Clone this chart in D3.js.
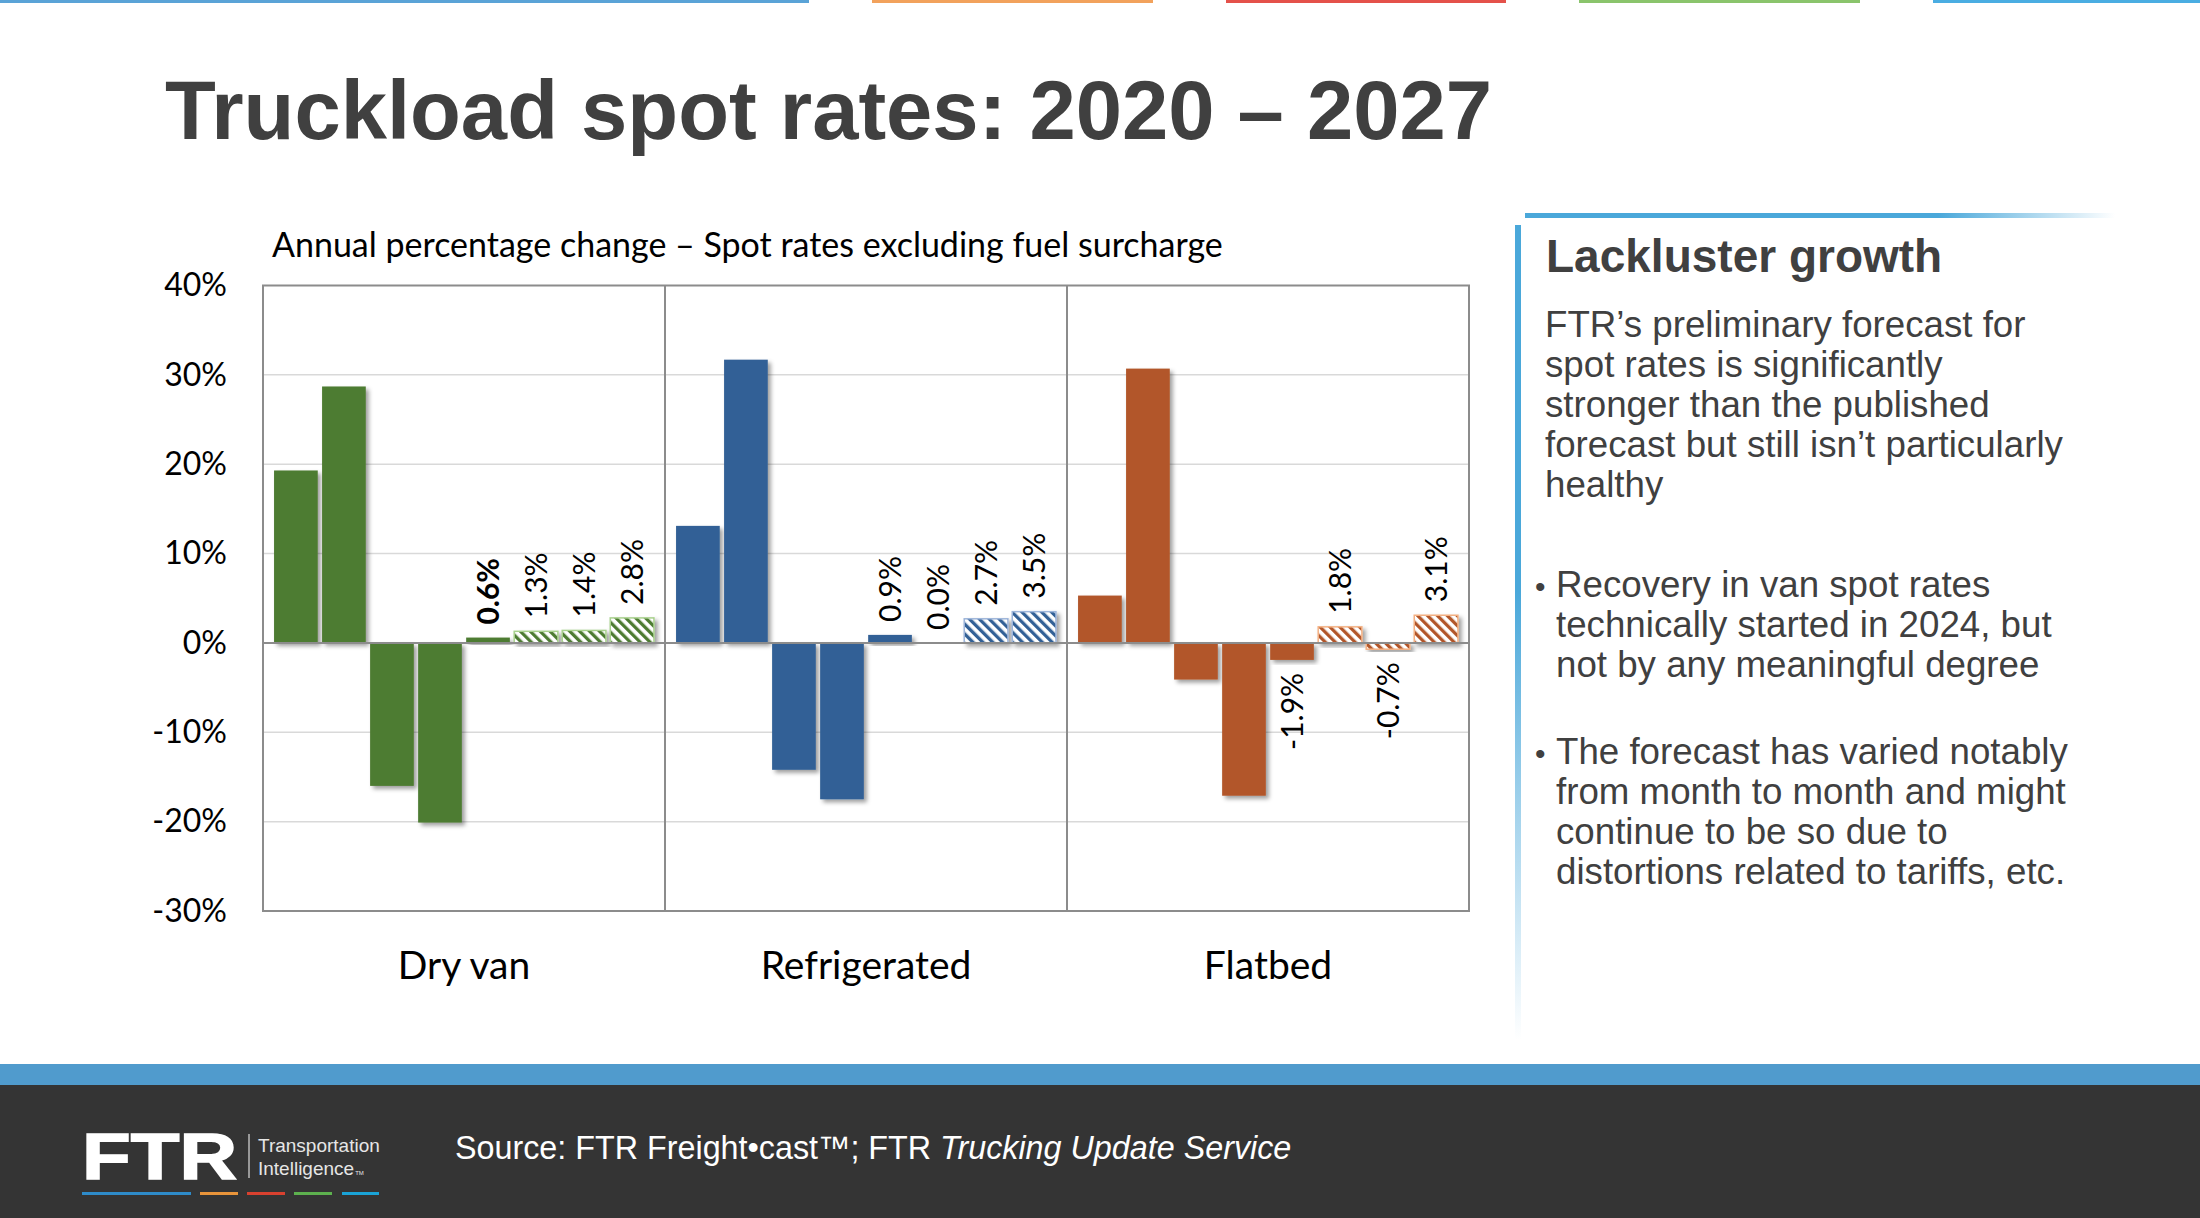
<!DOCTYPE html>
<html><head><meta charset="utf-8">
<script src="https://cdn.jsdelivr.net/npm/d3@7"></script>
<style>body{margin:0;background:#fff}svg{display:block}</style>
</head><body>
<svg id="c" width="2200" height="1218"></svg>
<script>
// ---------- data ----------
const years = ["2020","2021","2022","2023","2024","2025","2026","2027"];
const segments = ["Dry van","Refrigerated","Flatbed"];
const dryVan       = [19.3, 28.7, -16.0, -20.1, 0.6, 1.3, 1.4, 2.8];
const refrigerated = [13.1, 31.7, -14.2, -17.5, 0.9, 0.0, 2.7, 3.5];
const flatbed      = [5.3, 30.7, -4.1, -17.1, -1.9, 1.8, -0.7, 3.1];
const forecastYears = ["2025","2026","2027"];
const labeledYears  = ["2024","2025","2026","2027"];
const boldLabels    = ["Dry van|2024"];
const yTicks = [-30,-20,-10,0,10,20,30,40];

const title = "Truckload spot rates: 2020 \u2013 2027";
const subtitle = "Annual percentage change \u2013 Spot rates excluding fuel surcharge";
const sideHeading = "Lackluster growth";
const sideIntro = ["FTR\u2019s preliminary forecast for","spot rates is significantly","stronger than the published","forecast but still isn\u2019t particularly","healthy"];
const sideBullets = [
  ["Recovery in van spot rates","technically started in 2024, but","not by any meaningful degree"],
  ["The forecast has varied notably","from month to month and might","continue to be so due to","distortions related to tariffs, etc."]
];
const sourcePlain = "Source: FTR Freight\u2022cast\u2122; FTR ";
const sourceItalic = "Trucking Update Service";

// ---------- styling ----------
const segColors = {
  "Dry van":      {solid:"#4E7B32", light:"#A9D18E"},
  "Refrigerated": {solid:"#336196", light:"#9DB5DA"},
  "Flatbed":      {solid:"#B2572A", light:"#F4B183"}
};
const seriesBySeg = {"Dry van":dryVan, "Refrigerated":refrigerated, "Flatbed":flatbed};
const rows = segments.flatMap(s => years.map((yr,i) => ({seg:s, year:yr, value:seriesBySeg[s][i]})));

const svg = d3.select("#c");
const defs = svg.append("defs");

// drop shadow
const f = defs.append("filter").attr("id","shadow").attr("x","-20%").attr("y","-20%").attr("width","150%").attr("height","150%");
f.append("feDropShadow").attr("dx",3).attr("dy",3).attr("stdDeviation",2.2).attr("flood-color","#000").attr("flood-opacity",0.38);

// hatch patterns
segments.forEach((s,i) => {
  const p = defs.append("pattern").attr("id","hatch"+i).attr("patternUnits","userSpaceOnUse")
    .attr("width",7).attr("height",7).attr("patternTransform","rotate(-45)");
  p.append("rect").attr("width",7).attr("height",7).attr("fill","#fff");
  p.append("rect").attr("width",3.3).attr("height",7).attr("fill",segColors[s].solid);
});

// gradients for side panel
const gH = defs.append("linearGradient").attr("id","gH").attr("x1",0).attr("x2",1).attr("y1",0).attr("y2",0);
gH.append("stop").attr("offset","0%").attr("stop-color","#4AA8DA");
gH.append("stop").attr("offset","70%").attr("stop-color","#4AA8DA");
gH.append("stop").attr("offset","100%").attr("stop-color","#4AA8DA").attr("stop-opacity",0);
const gV = defs.append("linearGradient").attr("id","gV").attr("x1",0).attr("x2",0).attr("y1",0).attr("y2",1);
gV.append("stop").attr("offset","0%").attr("stop-color","#4AA8DA");
gV.append("stop").attr("offset","45%").attr("stop-color","#4AA8DA");
gV.append("stop").attr("offset","100%").attr("stop-color","#4AA8DA").attr("stop-opacity",0);

// top colored strips
const strips = [[0,809,"#5AA3D7"],[872,1153,"#F2A25C"],[1226,1506,"#E4514A"],[1579,1860,"#8AC46C"],[1933,2200,"#4AADE2"]];
svg.selectAll("rect.strip").data(strips).join("rect").attr("class","strip")
  .attr("x",d=>d[0]).attr("y",0).attr("width",d=>d[1]-d[0]).attr("height",3).attr("fill",d=>d[2]);

// title
svg.append("text").attr("x",165).attr("y",139).text(title)
  .attr("font-family","Liberation Sans, Arial, sans-serif").attr("font-weight","bold")
  .attr("font-size",83.2).attr("fill","#404040");

// ---------- chart ----------
const L = 263, R = 1469, T = 285.5, B = 911;
const x0 = d3.scaleBand().domain(segments).range([L,R]);
const x1 = d3.scaleBand().domain(years).range([0,x0.bandwidth()]).paddingInner(0.09).paddingOuter(0.23);
const y = d3.scaleLinear().domain([-30,40]).range([B,T]);

svg.append("text").attr("x",272).attr("y",257).text(subtitle)
  .attr("font-family","Lato, sans-serif").attr("font-size",34).attr("fill","#000");

// gridlines
svg.append("g").selectAll("line").data(yTicks.filter(t=>t!==-30&&t!==40&&t!==0)).join("line")
  .attr("x1",L).attr("x2",R).attr("y1",d=>y(d)).attr("y2",d=>y(d))
  .attr("stroke","#D9D9D9").attr("stroke-width",1.5);

// y axis labels
const yAx = svg.append("g").attr("transform",`translate(${L},0)`)
  .call(d3.axisLeft(y).tickValues(yTicks).tickFormat(d=>d+"%").tickSize(0).tickPadding(36));
yAx.select(".domain").remove();
yAx.selectAll("text").attr("font-family","Lato, sans-serif").attr("font-size",32).attr("fill","#000");

// bars
const gSeg = svg.append("g").selectAll("g").data(segments).join("g")
  .attr("transform",d=>`translate(${x0(d)},0)`);
gSeg.selectAll("rect").data(s => rows.filter(r=>r.seg===s && r.value!==0)).join("rect")
  .attr("x",d=>x1(d.year)).attr("width",x1.bandwidth())
  .attr("y",d=>y(Math.max(0,d.value))).attr("height",d=>Math.abs(y(d.value)-y(0)))
  .attr("fill",d=>forecastYears.includes(d.year)?`url(#hatch${segments.indexOf(d.seg)})`:segColors[d.seg].solid)
  .attr("stroke",d=>forecastYears.includes(d.year)?segColors[d.seg].light:"none")
  .attr("stroke-width",1.5)
  .attr("filter","url(#shadow)");

// value labels
gSeg.selectAll("text").data(s => rows.filter(r=>r.seg===s && labeledYears.includes(r.year))).join("text")
  .attr("transform",d=>{
    const cx = x1(d.year)+x1.bandwidth()/2;
    const ly = d.value>=0 ? y(d.value)-13 : y(d.value)+13;
    return `translate(${cx},${ly}) rotate(-90)`;
  })
  .attr("dy","0.36em")
  .attr("text-anchor",d=>d.value>=0?"start":"end")
  .attr("font-family","Lato, sans-serif").attr("font-size",30)
  .attr("font-weight",d=>boldLabels.includes(d.seg+"|"+d.year)?"bold":"normal")
  .attr("fill","#000")
  .text(d=>d.value.toFixed(1)+"%");

// zero line, dividers, border
svg.append("line").attr("x1",L).attr("x2",R).attr("y1",y(0)).attr("y2",y(0)).attr("stroke","#8C8C8C").attr("stroke-width",2);
svg.append("g").selectAll("line").data(segments.slice(1)).join("line")
  .attr("x1",d=>x0(d)).attr("x2",d=>x0(d)).attr("y1",T).attr("y2",B)
  .attr("stroke","#8C8C8C").attr("stroke-width",2);
svg.append("rect").attr("x",L).attr("y",T).attr("width",R-L).attr("height",B-T)
  .attr("fill","none").attr("stroke","#8C8C8C").attr("stroke-width",2);

// category labels
const xAx = svg.append("g").attr("transform",`translate(0,${B})`)
  .call(d3.axisBottom(x0).tickSize(0).tickPadding(40));
xAx.select(".domain").remove();
xAx.selectAll("text").attr("font-family","Lato, sans-serif").attr("font-size",39).attr("fill","#000");

// ---------- side panel ----------
svg.append("rect").attr("x",1525).attr("y",213).attr("width",590).attr("height",5).attr("fill","url(#gH)");
svg.append("rect").attr("x",1515).attr("y",225).attr("width",6).attr("height",815).attr("fill","url(#gV)");
const sideFont = "Liberation Sans, Arial, sans-serif";
svg.append("text").attr("x",1546).attr("y",272).text(sideHeading)
  .attr("font-family",sideFont).attr("font-weight","bold").attr("font-size",46).attr("fill","#404040");
svg.append("g").selectAll("text").data(sideIntro).join("text")
  .attr("x",1545).attr("y",(d,i)=>337+i*40).text(d=>d)
  .attr("font-family",sideFont).attr("font-size",36.7).attr("fill","#404040");
const bulletTops = [597, 764];
sideBullets.forEach((lines,bi) => {
  const g = svg.append("g");
  g.append("text").attr("x",1535).attr("y",bulletTops[bi]).text("\u2022")
    .attr("font-family",sideFont).attr("font-size",30).attr("fill","#404040");
  g.selectAll("text.l").data(lines).join("text").attr("class","l")
    .attr("x",1556).attr("y",(d,i)=>bulletTops[bi]+i*40).text(d=>d)
    .attr("font-family",sideFont).attr("font-size",36.7).attr("fill","#404040");
});

// ---------- footer ----------
svg.append("rect").attr("x",0).attr("y",1064).attr("width",2200).attr("height",21).attr("fill","#509BCD");
svg.append("rect").attr("x",0).attr("y",1085).attr("width",2200).attr("height",133).attr("fill","#343434");
svg.append("text").attr("x",82).attr("y",1179).text("FTR")
  .attr("font-family",sideFont).attr("font-weight","bold").attr("font-size",64).attr("fill","#fff")
  .attr("stroke","#fff").attr("stroke-width",1.5)
  .attr("textLength",155).attr("lengthAdjust","spacingAndGlyphs");
svg.append("line").attr("x1",249).attr("x2",249).attr("y1",1134).attr("y2",1178).attr("stroke","#ddd").attr("stroke-width",1.2);
svg.append("text").attr("x",258).attr("y",1152).text("Transportation")
  .attr("font-family",sideFont).attr("font-size",19).attr("fill","#e6e6e6");
svg.append("text").attr("x",258).attr("y",1175).text("Intelligence")
  .attr("font-family",sideFont).attr("font-size",19).attr("fill","#e6e6e6")
  .append("tspan").attr("font-size",6).attr("dx",1).text("TM");
const dashes = [[82,191,"#2E8BC9"],[200,238,"#E8943A"],[247,285,"#D9412F"],[294,332,"#5DB14E"],[342,379,"#1AA3D6"]];
svg.selectAll("rect.dash").data(dashes).join("rect").attr("class","dash")
  .attr("x",d=>d[0]).attr("y",1192).attr("width",d=>d[1]-d[0]).attr("height",3).attr("fill",d=>d[2]);
const src = svg.append("text").attr("x",455).attr("y",1159)
  .attr("font-family",sideFont).attr("font-size",32.3).attr("fill","#fff");
src.append("tspan").text(sourcePlain);
src.append("tspan").attr("font-style","italic").text(sourceItalic);
</script>
</body></html>
